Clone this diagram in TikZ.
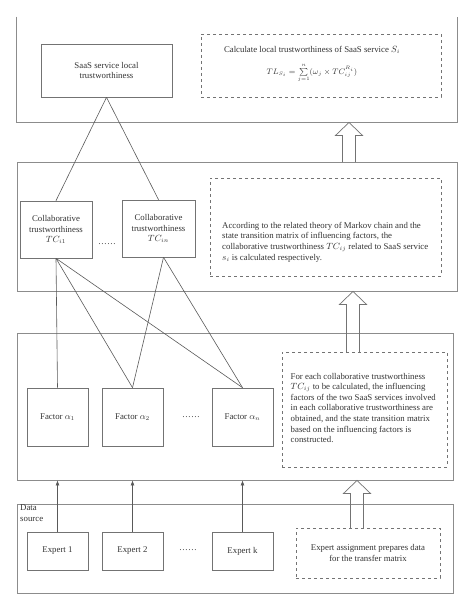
\documentclass[tikz,border=0pt]{standalone}
\usepackage{amsmath}
\usepackage{fontspec}
\setmainfont{Liberation Serif}
\usepackage{tikz}
\usetikzlibrary{arrows.meta,calc}
\definecolor{framegray}{gray}{0.55}
\definecolor{boxgray}{gray}{0.45}
\definecolor{linegray}{gray}{0.35}
\definecolor{textgray}{gray}{0.2}
\tikzset{
    panel/.style={draw=framegray, line width=0.9pt, inner sep=0pt},
    base/.style={draw=boxgray, line width=0.7pt, align=center, inner sep=0pt},
    note/.style={draw=boxgray, dashed, line width=0.7pt, inner sep=0pt},
    words/.style={align=left, inner sep=0pt},
    link/.style={draw=linegray, line width=0.6pt},
    hollow/.style={draw=boxgray, line width=0.7pt},
}
\newcommand{\hollowup}[2]{%
    \draw[hollow] let \p1=(#1), \p2=(#2) in
        (\x1-6.5pt,\y1) -- (\x1-6.5pt,\y2-13pt) -- (\x1-13.5pt,\y2-13pt)
        -- (\x2,\y2) -- (\x1+13.5pt,\y2-13pt) -- (\x1+6.5pt,\y2-13pt)
        -- (\x1+6.5pt,\y1);}

\begin{document}
\begin{tikzpicture}[x=1pt, y=-1pt, text=textgray,
    font=\fontsize{8.8}{10.6}\selectfont]
    \useasboundingbox (0,0) rectangle (474,610);

    % panels
    \node[panel, draw=none, minimum width=440pt, minimum height=105pt] (top) at (237,69.5) {};
    \draw[panel] (top.north west) |- (top.south east) -- (top.north east);
    \node[panel, minimum width=440pt, minimum height=129pt] (mid) at (237,226.5) {};
    \node[panel, minimum width=436pt, minimum height=147pt] (fac) at (235,406.5) {};
    \node[panel, minimum width=436pt, minimum height=89pt] (src) at (235,548.5) {};
    \node[words, anchor=north west] (srclabel) at (20,505) {Data\\source};

    % top level
    \node[base, minimum width=131pt, minimum height=53pt] (saas) at (106.5,70.5)
        {SaaS service local\\trustworthiness};
    \node[note, minimum width=240pt, minimum height=63pt] (calc) at (321,65.5) {};
    \node[inner sep=0pt] (calctext) at (312,50)
        {Calculate local trustworthiness of SaaS service $S_i$};
    \node[inner sep=0pt, font=\fontsize{7.6}{9}\selectfont] (formula) at (312,73)
        {$TL_{S_i}=\sum\limits_{j=1}^{n}(\omega_j\times TC_{ij}^{R_i})$};

    % collaborative level
    \node[base, minimum width=72pt, minimum height=57pt] (tc1) at (56,229.5)
        {Collaborative\\trustworthiness\\$TC_{i1}$};
    \node[base, minimum width=73pt, minimum height=57pt] (tcn) at (158.5,228.5)
        {Collaborative\\trustworthiness\\$TC_{in}$};
    \node (dots1) at (107,244) {\textellipsis\textellipsis};
    \node[note, minimum width=231pt, minimum height=98pt] (markov) at (325.5,227) {};
    \node[words, anchor=west] (markovtext) at (222,242)
        {According to the related theory of Markov chain and the\\
         state transition matrix of influencing factors, the\\
         collaborative trustworthiness $TC_{ij}$ related to SaaS service\\
         $s_i$ is calculated respectively.};

    % factor level
    \node[base, minimum width=61pt, minimum height=58pt] (f1) at (57.5,417) {Factor $\alpha_1$};
    \node[base, minimum width=61pt, minimum height=58pt] (f2) at (132.5,417) {Factor $\alpha_2$};
    \node[base, minimum width=61pt, minimum height=58pt] (fn) at (242.5,417) {Factor $\alpha_n$};
    \node (dots2) at (191,417) {\textellipsis\textellipsis};
    \node[note, minimum width=165pt, minimum height=115pt] (build) at (364.5,409.5) {};
    \node[words, anchor=west] (buildtext) at (290.5,408)
        {For each collaborative trustworthiness\\
         $TC_{ij}$ to be calculated, the influencing\\
         factors of the two SaaS services involved\\
         in each collaborative trustworthiness are\\
         obtained, and the state transition matrix\\
         based on the influencing factors is\\
         constructed.};

    % data source level
    \node[base, minimum width=61pt, minimum height=38pt] (e1) at (57.5,551) {Expert 1};
    \node[base, minimum width=61pt, minimum height=38pt] (e2) at (132.5,551) {Expert 2};
    \node[base, minimum width=61pt, minimum height=38pt] (ek) at (242.5,551) {Expert k};
    \node (dots3) at (188,550) {\textellipsis\textellipsis};
    \node[note, align=center, minimum width=144pt, minimum height=50pt] (assign) at (368,553)
        {Expert assignment prepares data\\for the transfer matrix};

    % connections
    \draw[link] (saas.south) -- (tc1.north);
    \draw[link] (saas.south) -- (tcn.north);
    \draw[link] (tc1.south) -- (f1.north);
    \draw[link] (tc1.south) -- (f2.north);
    \draw[link] (tc1.south) -- (fn.north);
    \draw[link] ([xshift=5pt]tcn.south) -- (f2.north);
    \draw[link] ([xshift=5pt]tcn.south) -- (fn.north);
    \foreach \e in {e1,e2,ek}
        \draw[link, -{Latex[length=5pt,width=4pt]}] (\e.north) -- (\e.north |- fac.south);

    % hollow arrows
    \coordinate (up1) at (349,162);
    \coordinate (up2) at (353,352);
    \coordinate (up3) at (357,528);
    \hollowup{up1}{up1 |- top.south}
    \hollowup{up2}{up2 |- mid.south}
    \hollowup{up3}{up3 |- fac.south}
\end{tikzpicture}
\end{document}
